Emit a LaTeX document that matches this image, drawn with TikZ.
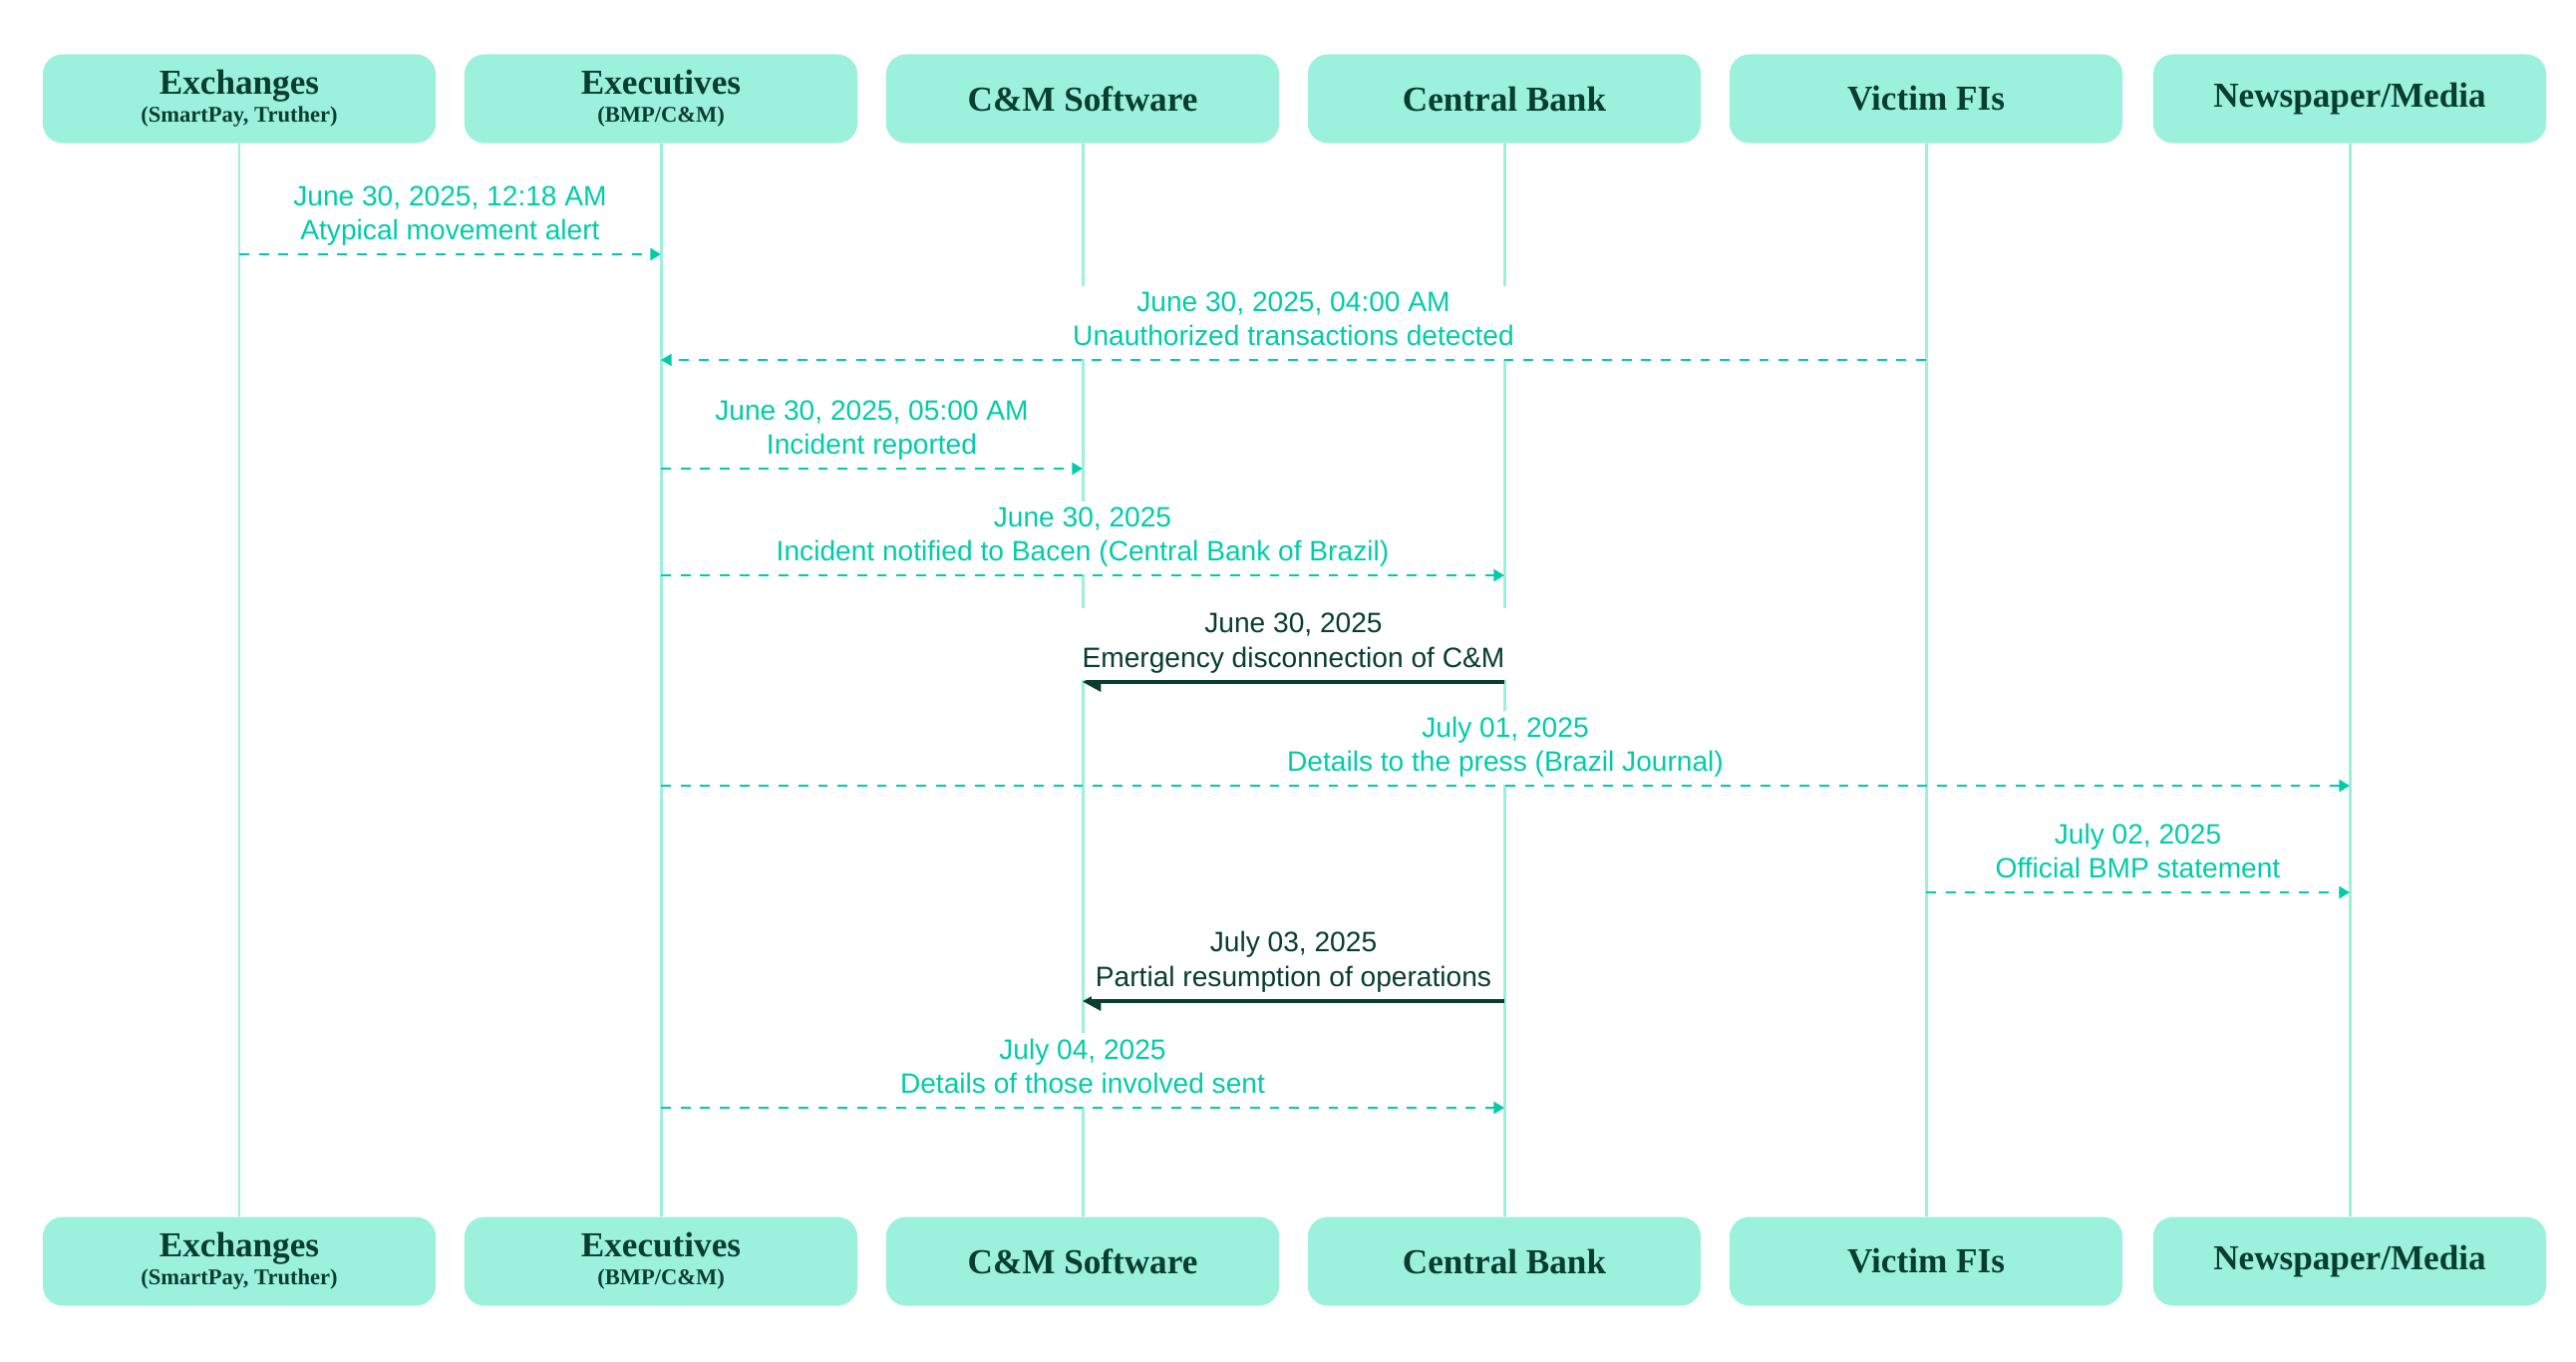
\documentclass[tikz,border=0pt]{standalone}
\usepackage{fontspec}
\setmainfont{Liberation Sans}
\newfontfamily\titlefont{Liberation Serif}
\usetikzlibrary{arrows.meta}

\definecolor{mint}{HTML}{9BF1DC}
\definecolor{msgteal}{HTML}{00CCA9}
\definecolor{deepgreen}{HTML}{083D32}

\begin{document}
\begin{tikzpicture}[x=0.01cm, y=-0.01cm,
        actor/.style={fill=mint, rounded corners=0.2cm, minimum width=3.94cm,
                      minimum height=0.89cm, align=center, inner sep=0pt, text=deepgreen,
                      font=\titlefont\bfseries\fontsize{10}{10.5}\selectfont},
        life/.style={draw=mint, line width=0.85pt},
        msg/.style={draw=msgteal, line width=0.65pt, dash pattern=on 2.8pt off 2.8pt,
                    -{Triangle[length=3pt, width=3.4pt]}},
        act/.style={draw=deepgreen, line width=0.9pt, -{Triangle[length=5.2pt, width=5.4pt]}},
        lbl/.style={fill=white, anchor=south, align=center, inner xsep=1pt, inner ysep=1.5pt,
                    text depth=2.2pt, text=msgteal, font=\fontsize{8}{9.9}\selectfont},
        lbldark/.style={lbl, text=deepgreen},
    ]
        \useasboundingbox (0,0) rectangle (2584,1365);

        % Participants (top and bottom)
        \node[actor] (exch-top) at (240,99) {Exchanges\\[-2.5pt]{\fontsize{6.4}{7}\selectfont (SmartPay, Truther)}};
        \node[actor] (exec-top) at (663,99) {Executives\\[-2.5pt]{\fontsize{6.4}{7}\selectfont (BMP/C\&M)}};
        \node[actor] (cm-top) at (1086,99) {C\&M Software};
        \node[actor] (bacen-top) at (1509,99) {Central Bank};
        \node[actor] (fis-top) at (1932,99) {Victim FIs};
        \node[actor] (media-top) at (2357,99) {Newspaper/Media};

        \node[actor] (exch-bot) at (240,1265) {Exchanges\\[-2.5pt]{\fontsize{6.4}{7}\selectfont (SmartPay, Truther)}};
        \node[actor] (exec-bot) at (663,1265) {Executives\\[-2.5pt]{\fontsize{6.4}{7}\selectfont (BMP/C\&M)}};
        \node[actor] (cm-bot) at (1086,1265) {C\&M Software};
        \node[actor] (bacen-bot) at (1509,1265) {Central Bank};
        \node[actor] (fis-bot) at (1932,1265) {Victim FIs};
        \node[actor] (media-bot) at (2357,1265) {Newspaper/Media};

        % Lifelines
        \foreach \a in {exch,exec,cm,bacen,fis,media}
            \draw[life] (\a-top) -- (\a-bot);

        % Message rows
        \foreach \i/\y in {1/255,2/361,3/470,4/577,5/684,6/788,7/895,8/1004,9/1111}
            \coordinate (t\i) at (0,\y);

        \draw[msg] (exch-top |- t1) -- node[lbl] {June 30, 2025, 12:18 AM\\Atypical movement alert} (exec-top |- t1);
        \draw[msg] (fis-top |- t2) -- node[lbl] {June 30, 2025, 04:00 AM\\Unauthorized transactions detected} (exec-top |- t2);
        \draw[msg] (exec-top |- t3) -- node[lbl] {June 30, 2025, 05:00 AM\\Incident reported} (cm-top |- t3);
        \draw[msg] (exec-top |- t4) -- node[lbl] {June 30, 2025\\Incident notified to Bacen (Central Bank of Brazil)} (bacen-top |- t4);
        \draw[act] (bacen-top |- t5) -- node[lbldark] {June 30, 2025\\Emergency disconnection of C\&M} (cm-top |- t5);
        \draw[msg] (exec-top |- t6) -- node[lbl] {July 01, 2025\\Details to the press (Brazil Journal)} (media-top |- t6);
        \draw[msg] (fis-top |- t7) -- node[lbl] {July 02, 2025\\Official BMP statement} (media-top |- t7);
        \draw[act] (bacen-top |- t8) -- node[lbldark] {July 03, 2025\\Partial resumption of operations} (cm-top |- t8);
        \draw[msg] (exec-top |- t9) -- node[lbl] {July 04, 2025\\Details of those involved sent} (bacen-top |- t9);
    \end{tikzpicture}
\end{document}
